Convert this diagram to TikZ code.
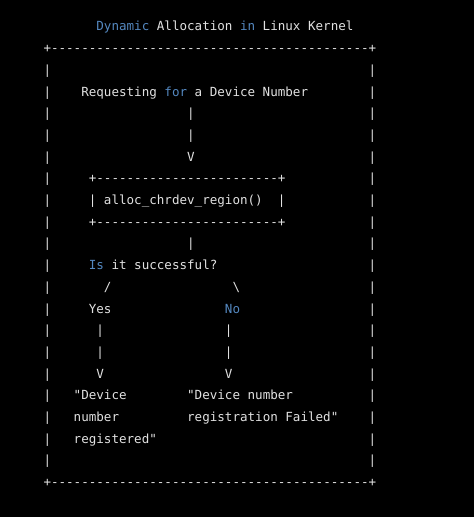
\documentclass[tikz,border=0pt]{standalone}
\usepackage{fontspec}
\setmonofont{DejaVu Sans Mono}
\definecolor{fg}{RGB}{225,225,225}
\definecolor{kw}{RGB}{84,136,192}
\tikzset{
  txt/.style={anchor=base west, inner sep=0pt, outer sep=0pt, text=fg,
    font=\ttfamily\fontsize{12.56}{15}\selectfont},
  blu/.style={text=kw}
}
\newcommand\ascii[4]{\node[txt,#3] (r#1c#2) at ({43.5+#2*7.56},{47+#1*21.7+5.6}) {#4};}
\newcommand\sides[1]{\ascii{#1}{0}{}{|}\ascii{#1}{43}{}{|}}
\begin{document}
\begin{tikzpicture}[x=1pt,y=-1pt]
\fill[black] (0,0) rectangle (474,517);
\useasboundingbox (0,0) rectangle (474,517);
% title
\ascii{-1}{7}{blu}{Dynamic}
\ascii{-1}{15}{}{Allocation}
\ascii{-1}{26}{blu}{in}
\ascii{-1}{29}{}{Linux}
\ascii{-1}{35}{}{Kernel}
% top border
\ascii{0}{0}{}{+}
\ascii{0}{1}{}{------------------------------------------}
\ascii{0}{43}{}{+}
\sides{1}
\sides{2}
\ascii{2}{5}{}{Requesting}
\ascii{2}{16}{blu}{for}
\ascii{2}{20}{}{a}
\ascii{2}{22}{}{Device}
\ascii{2}{29}{}{Number}
\sides{3}
\ascii{3}{19}{}{|}
\sides{4}
\ascii{4}{19}{}{|}
\sides{5}
\ascii{5}{19}{}{V}
\sides{6}
\ascii{6}{6}{}{+}
\ascii{6}{7}{}{------------------------}
\ascii{6}{31}{}{+}
\sides{7}
\ascii{7}{6}{}{|}
\ascii{7}{8}{}{alloc\_chrdev\_region()}
\ascii{7}{31}{}{|}
\sides{8}
\ascii{8}{6}{}{+}
\ascii{8}{7}{}{------------------------}
\ascii{8}{31}{}{+}
\sides{9}
\ascii{9}{19}{}{|}
\sides{10}
\ascii{10}{6}{blu}{Is}
\ascii{10}{9}{}{it successful?}
\sides{11}
\ascii{11}{8}{}{/}
\ascii{11}{25}{}{\textbackslash}
\sides{12}
\ascii{12}{6}{}{Yes}
\ascii{12}{24}{blu}{No}
\sides{13}
\ascii{13}{7}{}{|}
\ascii{13}{24}{}{|}
\sides{14}
\ascii{14}{7}{}{|}
\ascii{14}{24}{}{|}
\sides{15}
\ascii{15}{7}{}{V}
\ascii{15}{24}{}{V}
\sides{16}
\ascii{16}{4}{}{"Device}
\ascii{16}{19}{}{"Device number}
\sides{17}
\ascii{17}{4}{}{number}
\ascii{17}{19}{}{registration Failed"}
\sides{18}
\ascii{18}{4}{}{registered"}
\sides{19}
% bottom border
\ascii{20}{0}{}{+}
\ascii{20}{1}{}{------------------------------------------}
\ascii{20}{43}{}{+}
\end{tikzpicture}
\end{document}
